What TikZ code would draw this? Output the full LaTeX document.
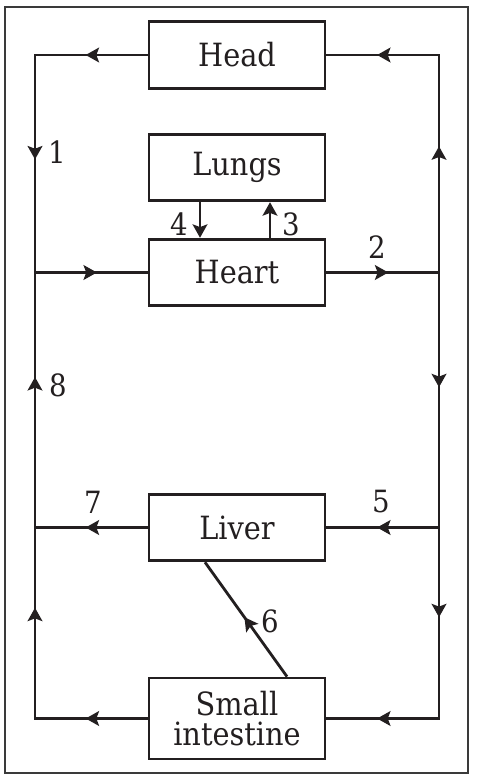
\documentclass[tikz,border=0pt]{standalone}
\usepackage{fontspec}
\setmainfont{DejaVu Serif Condensed}
\usetikzlibrary{arrows.meta, calc, decorations.markings}
\definecolor{linedark}{HTML}{231F20}
\definecolor{framegray}{HTML}{3A3A3A}

\tikzset{
  organ/.style={draw=linedark, text=linedark, line width=2.1pt, minimum width=132pt, minimum height=50pt, inner sep=0pt, font=\fontsize{24}{23}\selectfont, align=center},
  vessel/.style={draw=linedark, line width=2.1pt, line cap=rect},
  flow/.style={vessel, postaction={decorate}, decoration={markings, mark=at position #1 with {\arrow{Stealth[length=10pt,width=11pt,inset=2pt]}}}},
  flow/.default=0.55,
  numlabel/.style={text=linedark, inner sep=0pt, font=\fontsize{23}{23}\selectfont},
}

\begin{document}
\begin{tikzpicture}[x=0.75pt, y=-0.75pt]
  \useasboundingbox (0,0) rectangle (476,781);
  \fill[white] (0,0) rectangle (476,781);

  % Outer frame
  \draw[framegray, line width=1.6pt] (5,7) rectangle (468,773);

  % Organs
  \node[organ] (Head) at (237,55) {Head};
  \node[organ] (Lungs) at (237,167.5) {Lungs};
  \node[organ] (Heart) at (237,272.5) {Heart};
  \node[organ] (Liver) at (237,527.5) {Liver};
  \node[organ, minimum height=60.75pt] (SmallInt) at (237,718.5) {Small\\intestine};

  % Corners of the two main vessels
  \coordinate (hl) at (35,55);
  \coordinate (hrl) at (35,272.5);
  \coordinate (ll) at (35,527.5);
  \coordinate (sl) at (35,718.5);
  \coordinate (hr) at (439,55);
  \coordinate (her) at (439,272.5);
  \coordinate (lr) at (439,527.5);
  \coordinate (sr) at (439,718.5);

  % Left side
  \draw[flow] (Head.west) -- (hl);
  \draw[flow=0.48] (hl) -- (hrl);
  \draw[flow] (hrl) -- (Heart.west);
  \draw[flow=0.59] (ll) -- (hrl);
  \draw[flow] (Liver.west) -- (ll);
  \draw[flow=0.58] (sl) -- (ll);
  \draw[flow] (SmallInt.west) -- (sl);

  % Right side
  \draw[flow] (hr) -- (Head.east);
  \draw[flow=0.58] (her) -- (hr);
  \draw[flow] (Heart.east) -- (her);
  \draw[flow=0.45] (her) -- (lr);
  \draw[flow] (lr) -- (Liver.east);
  \draw[flow=0.47] (lr) -- (sr);
  \draw[flow] (sr) -- (SmallInt.east);

  % Lungs and heart
  \draw[vessel, line cap=butt, -{Stealth[length=10pt,width=11pt,inset=2pt]}] ($(Lungs.south)+(-37,0)$) -- ($(Heart.north)+(-37,0)$);
  \draw[vessel, line cap=butt, -{Stealth[length=10pt,width=11pt,inset=2pt]}] ($(Heart.north)+(33,0)$) -- ($(Lungs.south)+(33,0)$);

  % Hepatic portal vein
  \draw[flow=0.52, line cap=butt] ($(SmallInt.north)+(50,0)$) -- ($(Liver.south)+(-32,0)$);

  % Numbers
  \node[numlabel] (n1) at (57,152) {1};
  \node[numlabel] (n2) at (377,247) {2};
  \node[numlabel] (n3) at (291,224) {3};
  \node[numlabel] (n4) at (179,224) {4};
  \node[numlabel] (n5) at (381,502) {5};
  \node[numlabel] (n6) at (270,621) {6};
  \node[numlabel] (n7) at (93,502) {7};
  \node[numlabel] (n8) at (58,385) {8};
\end{tikzpicture}
\end{document}
